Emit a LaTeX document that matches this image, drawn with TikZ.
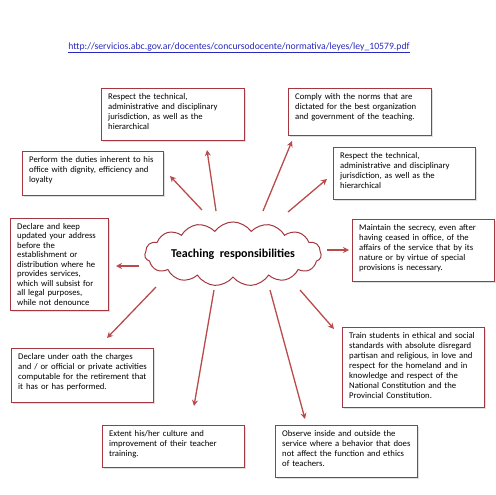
\documentclass[tikz,border=0pt]{standalone}
\usepackage{fontspec}
\setmainfont{Carlito}
\usetikzlibrary{shapes.symbols,arrows.meta,shadows}
\definecolor{boxred}{RGB}{165,55,65}
\definecolor{arrred}{RGB}{185,75,75}
\definecolor{urlblue}{RGB}{40,40,190}
\newcommand\tbox[7]{%
  \node[box, minimum width=#4, minimum height=#5] (#1) at (#2,#3) {};
  \node[txt, text width=#6] (#1t) at ([xshift=7pt,yshift=-5pt]#1.north west) {#7};}
\begin{document}
\begin{tikzpicture}[x=1pt,y=-1pt,
  box/.style={draw=boxred, line width=1pt, fill=white, anchor=north west, inner sep=0pt,
    drop shadow={shadow xshift=1pt, shadow yshift=-1pt, opacity=0.25}},
  txt/.style={anchor=north west, inner sep=0pt, align=left,
    font=\fontsize{8.7}{10}\selectfont},
  arr/.style={draw=arrred, line width=1.3pt, -{Stealth[length=6pt,width=6pt]}},
  cloudst/.style={cloud, cloud puffs=15, cloud puff arc=110, aspect=3.8, draw=boxred,
    line width=1pt, fill=white, minimum width=176, minimum height=42, inner sep=0pt,
    font=\fontsize{12}{14}\selectfont\bfseries}]
\useasboundingbox (0,0) rectangle (495,495);

\node[text=urlblue, font=\fontsize{9.7}{11}\selectfont] (url) at (239,48)
  {\underline{http://servicios.abc.gov.ar/docentes/concursodocente/normativa/leyes/ley\_10579.pdf}};

\tbox{b1}{101}{88}{143}{52}{136pt}{Respect the technical,\\administrative and disciplinary\\jurisdiction, as well as the\\hierarchical}
\tbox{b2}{288}{88}{143}{47}{136pt}{Comply with the norms that are\\dictated for the best organization\\and government of the teaching.}
\tbox{b3}{22}{151}{141}{44}{134pt}{Perform the duties inherent to his\\office with dignity, efficiency and\\loyalty}
\tbox{b4}{333}{147}{142}{52}{135pt}{Respect the technical,\\administrative and disciplinary\\jurisdiction, as well as the\\hierarchical}
\tbox{b5}{10}{218}{98}{92}{91pt}{\fontsize{8.7}{9.5}\selectfont Declare and keep\\updated your address\\before the\\establishment or\\distribution where he\\provides services,\\which will subsist for\\all legal purposes,\\while not denounce}
\tbox{b6}{352}{219}{142}{62}{135pt}{Maintain the secrecy, even after\\having ceased in office, of the\\affairs of the service that by its\\nature or by virtue of special\\provisions is necessary.}
\tbox{b7}{11}{348}{142}{54}{135pt}{Declare under oath the charges\\and / or official or private activities\\computable for the retirement that\\it has or has performed.}
\tbox{b8}{342}{327}{142}{80}{135pt}{Train students in ethical and social\\standards with absolute disregard\\partisan and religious, in love and\\respect for the homeland and in\\knowledge and respect of the\\National Constitution and the\\Provincial Constitution.}
\tbox{b9}{102}{425}{142}{42}{135pt}{Extent his/her culture and\\improvement of their teacher\\training.}
\tbox{b10}{275}{425}{142}{52}{135pt}{Observe inside and outside the\\service where a behavior that does\\not affect the function and ethics\\of teachers.}

\node[cloudst] (c) at (233,254) {Teaching\ \ responsibilities};

\coordinate (s1) at (202,210); \coordinate (e1) at (170,176);
\coordinate (s2) at (216,211); \coordinate (e2) at (207,150);
\coordinate (s3) at (263,211); \coordinate (e3) at (292,141);
\coordinate (s4) at (288,212); \coordinate (e4) at (327,179);
\coordinate (s5) at (327,250); \coordinate (e5) at (349,250);
\coordinate (s6) at (139,266); \coordinate (e6) at (116,266);
\coordinate (s7) at (156,287); \coordinate (e7) at (107,338);
\coordinate (s8) at (214,290); \coordinate (e8) at (194,406);
\coordinate (s9) at (270,290); \coordinate (e9) at (305,419);
\coordinate (s10) at (300,290); \coordinate (e10) at (334,329);
\foreach \i in {1,...,10} {\draw[arr] (s\i) -- (e\i);}
\end{tikzpicture}
\end{document}
